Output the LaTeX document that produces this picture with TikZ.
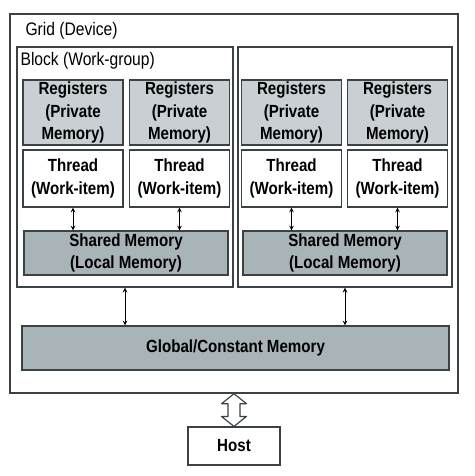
\documentclass[tikz,border=0pt]{standalone}
\usepackage{fontspec}
\setmainfont{Liberation Sans}
\newfontfamily\boxfont[FakeStretch=0.86]{Liberation Sans}
\usetikzlibrary{calc,positioning}
\definecolor{regfill}{HTML}{C9CFD3}
\definecolor{memfill}{HTML}{A9B4B9}
\definecolor{edge}{HTML}{3A4246}

\begin{document}
\begin{tikzpicture}[x=0.03cm, y=-0.03cm, line width=1pt,
    box/.style={draw=edge, inner sep=0pt, align=center, font=\boxfont\fontsize{15}{19.5}\selectfont\bfseries},
    regs/.style={box, fill=regfill, minimum width=3cm, minimum height=1.95cm},
    thread/.style={box, fill=white, minimum width=3cm, minimum height=1.71cm},
    shared/.style={box, fill=memfill, minimum width=6.12cm, minimum height=1.32cm},
    frame/.style={draw=edge, line width=1.2pt, inner sep=0pt},
    tag/.style={anchor=west, inner sep=0pt, font=\boxfont\fontsize{15.5}{18}\selectfont},
    link/.style={<->, >=stealth, line width=0.8pt, draw=black}]
\useasboundingbox (0,0) rectangle (474,476);

% device and its two blocks
\node[frame, minimum width=13.44cm, minimum height=11.37cm] (grid) at (234,203.5) {};
\node[frame, minimum width=6.48cm, minimum height=7.2cm] (blk1) at (125,167) {};
\node[frame, minimum width=6.42cm, minimum height=7.2cm] (blk2) at (345,167) {};
\node[tag] (gridlbl) at (25,31) {Grid (Device)};
\node[tag] (blklbl) at (20,61) {Block (Work-group)};

% registers and threads
\node[regs] (reg1) at (73,112.5) {Registers\\(Private\\Memory)};
\node[regs] (reg2) at (179.5,112.5) {Registers\\(Private\\Memory)};
\node[regs] (reg3) at (291.5,112.5) {Registers\\(Private\\Memory)};
\node[regs] (reg4) at (397.5,112.5) {Registers\\(Private\\Memory)};
\node[thread] (th1) at (73,178.5) {Thread\\(Work-item)};
\node[thread] (th2) at (179.5,178.5) {Thread\\(Work-item)};
\node[thread] (th3) at (291.5,178.5) {Thread\\(Work-item)};
\node[thread] (th4) at (397.5,178.5) {Thread\\(Work-item)};

% local memories
\node[shared] (sh1) at (126,253) {Shared Memory\\(Local Memory)};
\node[shared] (sh2) at (345,253) {Shared Memory\\(Local Memory)};

\node[box, fill=memfill, minimum width=12.81cm, minimum height=1.32cm] (glob) at (235.5,348) {Global/Constant Memory};
\node[box, fill=white, minimum width=2.76cm, minimum height=1.14cm] (host) at (234,446) {Host};

\draw[link] (th1.south) -- (th1.south |- sh1.north);
\draw[link] (th2.south) -- (th2.south |- sh1.north);
\draw[link] (th3.south) -- (th3.south |- sh2.north);
\draw[link] (th4.south) -- (th4.south |- sh2.north);
\draw[link] (blk1.south) -- (blk1.south |- glob.north);
\draw[link] (blk2.south) -- (blk2.south |- glob.north);

% host link
\draw[edge, fill=white, line width=1pt, line join=round]
  (grid.south) -- ++(12.5,10) -- ++(-6.5,0) -- ($(host.north)+(6,-10)$)
  -- ++(6.5,0) -- (host.north) -- ++(-12.5,-10) -- ++(6.5,0)
  -- ($(grid.south)+(-6,10)$) -- ++(-6.5,0) -- cycle;
\end{tikzpicture}
\end{document}
